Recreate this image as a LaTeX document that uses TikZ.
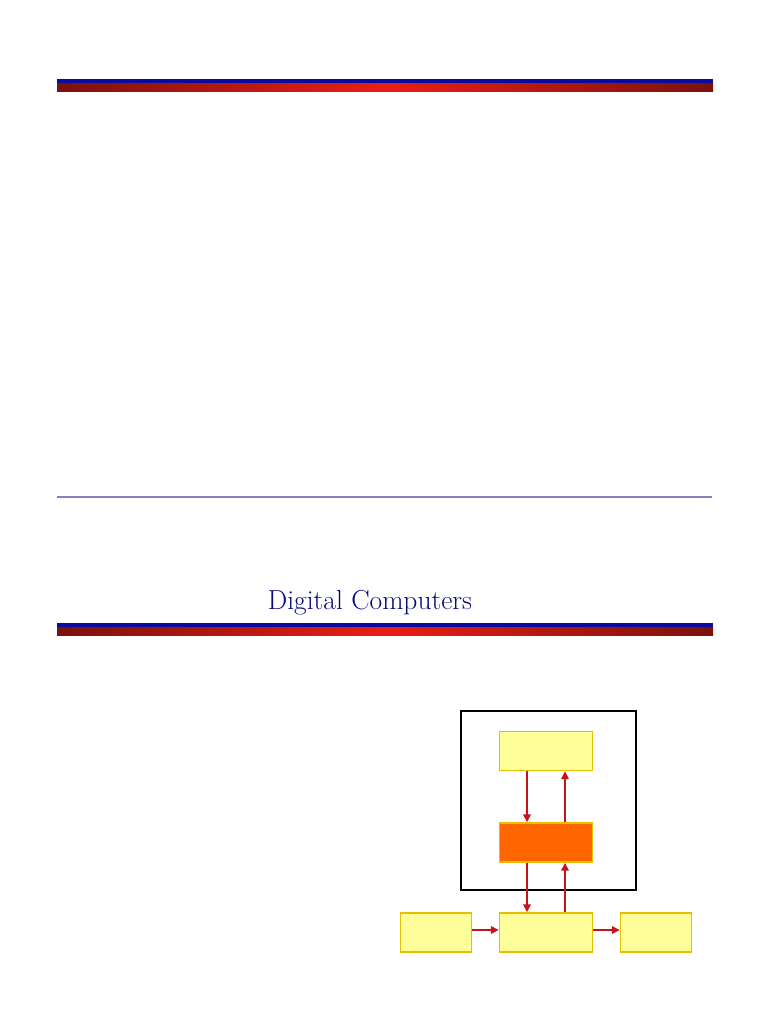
\documentclass[tikz,border=0pt]{standalone}
\usepackage{tikz}
\usetikzlibrary{arrows.meta}
\usetikzlibrary{calc}

\definecolor{barblue}{HTML}{0A0A9E}
\definecolor{bardark}{HTML}{7A1208}
\definecolor{barred}{HTML}{EA1E16}
\definecolor{rulelav}{HTML}{8482C4}
\definecolor{titleblue}{HTML}{08087A}
\definecolor{boxyellow}{HTML}{FFFF99}
\definecolor{boxedge}{HTML}{E6C000}
\definecolor{cpuorange}{HTML}{FF6600}
\definecolor{linkred}{HTML}{C41418}

\begin{document}
\begin{tikzpicture}[
    x=1pt, y=-1pt,
    unit box/.style={draw=boxedge, fill=boxyellow, line width=1.4pt, inner sep=0pt,
        minimum height=39pt},
    wide box/.style={unit box, minimum width=93pt},
    small box/.style={unit box, minimum width=71pt},
    cpu box/.style={wide box, fill=cpuorange},
    link/.style={-{Triangle[length=8pt, width=7.5pt]}, line width=1.8pt, color=linkred},
    every node/.style={color=black}
    ]

    \useasboundingbox (0,0) rectangle (768,1024);

    % header bars
    \fill[barblue] (57,79.5) rectangle (713,84);
    \shade[left color=bardark, right color=bardark, middle color=barred]
        (57,84) rectangle (713,92);
    \draw[rulelav, line width=2.4pt] (57,497) -- (712,497);
    \fill[barblue] (57,622.5) rectangle (713,627);
    \shade[left color=bardark, right color=bardark, middle color=barred]
        (57,627) rectangle (713,635);

    % title
    \node(title) at (370,603) {\fontsize{27.5}{32}\selectfont\color{titleblue}Digital Computers};

    % computer frame
    \draw[black, line width=1.3pt] (461,711) rectangle (636,890);

    % units
    \node[wide box] (memory) at (546,751) {};
    \node[cpu box] (cpu) at (546,842.5) {};
    \node[wide box] (io) at (546,932.5) {};
    \node[small box] (input) at (436,932.5) {};
    \node[small box] (output) at (656,932.5) {};

    % links
    \draw[link] (memory.south -| 527,0) -- (cpu.north -| 527,0);
    \draw[link] (cpu.north -| 565,0) -- (memory.south -| 565,0);
    \draw[link] (cpu.south -| 527,0) -- (io.north -| 527,0);
    \draw[link] (io.north -| 565,0) -- (cpu.south -| 565,0);
    \draw[link] (input.east |- 0,930) -- (io.west |- 0,930);
    \draw[link] (io.east |- 0,930) -- (output.west |- 0,930);

\end{tikzpicture}
\end{document}
